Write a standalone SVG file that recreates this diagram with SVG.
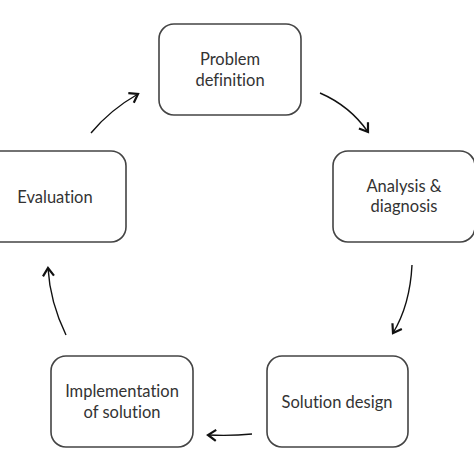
<svg xmlns="http://www.w3.org/2000/svg" width="474" height="474" viewBox="0 0 474 474">
<style>
.box{fill:#fff;stroke:#444;stroke-width:1.6}
.lbl{font-family:Lato,"Liberation Sans",sans-serif;font-size:16.5px;fill:#333;text-anchor:middle;font-variant-ligatures:none}
.conn{fill:none;stroke:#111;stroke-width:1.4}
</style>
<defs>
<marker id="ah" markerUnits="userSpaceOnUse" markerWidth="14" markerHeight="14" viewBox="-10 -7 12 14" refX="0" refY="0" orient="auto">
<path d="M-8,-5.5 L0,0 L-8,5.5" fill="none" stroke="#111" stroke-width="2.2" stroke-linejoin="miter"/>
</marker>
</defs>
<rect width="474" height="474" fill="#fff"/>
<g id="problem-definition">
<rect class="box" x="159" y="24" width="142" height="91" rx="15"/>
<text class="lbl" x="230" y="65">Problem</text>
<text class="lbl" x="230" y="86">definition</text>
</g>
<g id="analysis-diagnosis">
<rect class="box" x="333" y="151" width="142" height="91" rx="15"/>
<text class="lbl" x="404" y="192">Analysis &amp;</text>
<text class="lbl" x="404" y="212">diagnosis</text>
</g>
<g id="solution-design">
<rect class="box" x="267" y="356" width="141" height="91" rx="15"/>
<text class="lbl" x="337" y="408">Solution design</text>
</g>
<g id="implementation">
<rect class="box" x="51" y="356" width="142" height="91" rx="15"/>
<text class="lbl" x="122" y="397">Implementation</text>
<text class="lbl" x="122" y="418">of solution</text>
</g>
<g id="evaluation">
<rect class="box" x="-16" y="151" width="142" height="91" rx="15"/>
<text class="lbl" x="55" y="203">Evaluation</text>
</g>
<g id="connectors">
<path class="conn" d="M320,93 Q350,106 368,132" marker-end="url(#ah)"/>
<path class="conn" d="M412,265 Q410,305 393,333" marker-end="url(#ah)"/>
<path class="conn" d="M252,434 Q232,436 208,435" marker-end="url(#ah)"/>
<path class="conn" d="M66,335 Q50,302 48,268" marker-end="url(#ah)"/>
<path class="conn" d="M91,133 Q110,110 138,94" marker-end="url(#ah)"/>
</g>
</svg>
